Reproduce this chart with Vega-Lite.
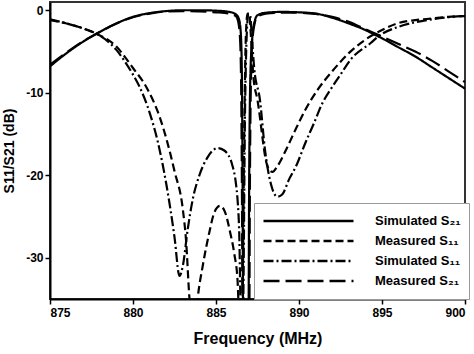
{
  "$schema": "https://vega.github.io/schema/vega-lite/v6.json",
  "width": 415,
  "height": 297,
  "autosize": {"type": "none"},
  "padding": {"left": 50, "top": 2, "right": 9, "bottom": 55},
  "background": "white",
  "config": {
    "font": "Liberation Sans",
    "view": {"stroke": "#333", "strokeWidth": 2},
    "axis": {
      "grid": false,
      "domainColor": "black",
      "domainWidth": 2,
      "tickColor": "black",
      "tickWidth": 1.5,
      "tickSize": 5,
      "labelColor": "black",
      "labelFontWeight": "bold",
      "labelFontSize": 12,
      "titleColor": "black",
      "titleFontWeight": "bold"
    }
  },
  "data": {
    "values": [
      {"series": "Simulated S₂₁", "f": 875, "db": -6.8},
      {"series": "Simulated S₂₁", "f": 876, "db": -5.2},
      {"series": "Simulated S₂₁", "f": 877, "db": -3.8},
      {"series": "Simulated S₂₁", "f": 877.8, "db": -2.85},
      {"series": "Simulated S₂₁", "f": 879, "db": -1.6},
      {"series": "Simulated S₂₁", "f": 880, "db": -0.8},
      {"series": "Simulated S₂₁", "f": 881, "db": -0.35},
      {"series": "Simulated S₂₁", "f": 882, "db": -0.1},
      {"series": "Simulated S₂₁", "f": 883, "db": 0},
      {"series": "Simulated S₂₁", "f": 884, "db": 0},
      {"series": "Simulated S₂₁", "f": 885, "db": -0.05},
      {"series": "Simulated S₂₁", "f": 885.8, "db": -0.2},
      {"series": "Simulated S₂₁", "f": 886.2, "db": -0.5},
      {"series": "Simulated S₂₁", "f": 886.4, "db": -1.2},
      {"series": "Simulated S₂₁", "f": 886.5, "db": -3},
      {"series": "Simulated S₂₁", "f": 886.56, "db": -8},
      {"series": "Simulated S₂₁", "f": 886.6, "db": -20},
      {"series": "Simulated S₂₁", "f": 886.64, "db": -40},
      {"series": "Simulated S₂₁", "f": 886.95, "db": -40},
      {"series": "Simulated S₂₁", "f": 887.0, "db": -20},
      {"series": "Simulated S₂₁", "f": 887.07, "db": -8},
      {"series": "Simulated S₂₁", "f": 887.2, "db": -3},
      {"series": "Simulated S₂₁", "f": 887.35, "db": -1.2},
      {"series": "Simulated S₂₁", "f": 887.5, "db": -0.6},
      {"series": "Simulated S₂₁", "f": 888, "db": -0.3},
      {"series": "Simulated S₂₁", "f": 889, "db": -0.2},
      {"series": "Simulated S₂₁", "f": 890, "db": -0.25},
      {"series": "Simulated S₂₁", "f": 891, "db": -0.4},
      {"series": "Simulated S₂₁", "f": 892, "db": -0.9},
      {"series": "Simulated S₂₁", "f": 893, "db": -1.6},
      {"series": "Simulated S₂₁", "f": 894, "db": -2.4},
      {"series": "Simulated S₂₁", "f": 894.7, "db": -3.1},
      {"series": "Simulated S₂₁", "f": 895, "db": -3.4},
      {"series": "Simulated S₂₁", "f": 896, "db": -4.5},
      {"series": "Simulated S₂₁", "f": 897, "db": -5.6},
      {"series": "Simulated S₂₁", "f": 898, "db": -6.9},
      {"series": "Simulated S₂₁", "f": 899, "db": -8.2},
      {"series": "Simulated S₂₁", "f": 900, "db": -9.5},

      {"series": "Measured S₁₁", "f": 875, "db": -1.2},
      {"series": "Measured S₁₁", "f": 876, "db": -1.6},
      {"series": "Measured S₁₁", "f": 877, "db": -2.2},
      {"series": "Measured S₁₁", "f": 877.8, "db": -2.85},
      {"series": "Measured S₁₁", "f": 878.5, "db": -3.6},
      {"series": "Measured S₁₁", "f": 879, "db": -4.4},
      {"series": "Measured S₁₁", "f": 879.6, "db": -5.9},
      {"series": "Measured S₁₁", "f": 880, "db": -7},
      {"series": "Measured S₁₁", "f": 880.8, "db": -9.3},
      {"series": "Measured S₁₁", "f": 881.6, "db": -12.9},
      {"series": "Measured S₁₁", "f": 882, "db": -15.5},
      {"series": "Measured S₁₁", "f": 882.5, "db": -19.5},
      {"series": "Measured S₁₁", "f": 883, "db": -24.1},
      {"series": "Measured S₁₁", "f": 883.2, "db": -28},
      {"series": "Measured S₁₁", "f": 883.4, "db": -34.9},
      {"series": "Measured S₁₁", "f": 883.5, "db": -37},
      {"series": "Measured S₁₁", "f": 883.8, "db": -37},
      {"series": "Measured S₁₁", "f": 883.9, "db": -34.9},
      {"series": "Measured S₁₁", "f": 884.2, "db": -31},
      {"series": "Measured S₁₁", "f": 884.6, "db": -26.9},
      {"series": "Measured S₁₁", "f": 884.9, "db": -24.5},
      {"series": "Measured S₁₁", "f": 885.24, "db": -23.7},
      {"series": "Measured S₁₁", "f": 885.55, "db": -24.5},
      {"series": "Measured S₁₁", "f": 885.85, "db": -26.9},
      {"series": "Measured S₁₁", "f": 886.1, "db": -29.5},
      {"series": "Measured S₁₁", "f": 886.3, "db": -32.8},
      {"series": "Measured S₁₁", "f": 886.4, "db": -37},
      {"series": "Measured S₁₁", "f": 886.58, "db": -37},
      {"series": "Measured S₁₁", "f": 886.7, "db": -15},
      {"series": "Measured S₁₁", "f": 886.8, "db": -3},
      {"series": "Measured S₁₁", "f": 886.9, "db": -0.4},
      {"series": "Measured S₁₁", "f": 887.0, "db": -0.4},
      {"series": "Measured S₁₁", "f": 887.1, "db": -3},
      {"series": "Measured S₁₁", "f": 887.25, "db": -8},
      {"series": "Measured S₁₁", "f": 887.5, "db": -10.9},
      {"series": "Measured S₁₁", "f": 888.1, "db": -18.9},
      {"series": "Measured S₁₁", "f": 888.4, "db": -19.6},
      {"series": "Measured S₁₁", "f": 888.7, "db": -18.9},
      {"series": "Measured S₁₁", "f": 889.2, "db": -17},
      {"series": "Measured S₁₁", "f": 889.7, "db": -14.85},
      {"series": "Measured S₁₁", "f": 890.4, "db": -12},
      {"series": "Measured S₁₁", "f": 891.1, "db": -9.7},
      {"series": "Measured S₁₁", "f": 892, "db": -7.4},
      {"series": "Measured S₁₁", "f": 893, "db": -5.2},
      {"series": "Measured S₁₁", "f": 893.9, "db": -3.7},
      {"series": "Measured S₁₁", "f": 895, "db": -2.4},
      {"series": "Measured S₁₁", "f": 895.9, "db": -1.6},
      {"series": "Measured S₁₁", "f": 897, "db": -1.2},
      {"series": "Measured S₁₁", "f": 898, "db": -1.0},
      {"series": "Measured S₁₁", "f": 899, "db": -0.8},
      {"series": "Measured S₁₁", "f": 900, "db": -0.7},

      {"series": "Simulated S₁₁", "f": 875, "db": -1.1},
      {"series": "Simulated S₁₁", "f": 876, "db": -1.6},
      {"series": "Simulated S₁₁", "f": 877, "db": -2.2},
      {"series": "Simulated S₁₁", "f": 877.8, "db": -2.85},
      {"series": "Simulated S₁₁", "f": 878.5, "db": -3.8},
      {"series": "Simulated S₁₁", "f": 879, "db": -4.8},
      {"series": "Simulated S₁₁", "f": 879.6, "db": -6.5},
      {"series": "Simulated S₁₁", "f": 880, "db": -7.8},
      {"series": "Simulated S₁₁", "f": 880.4, "db": -9.3},
      {"series": "Simulated S₁₁", "f": 881, "db": -12.4},
      {"series": "Simulated S₁₁", "f": 881.5, "db": -16},
      {"series": "Simulated S₁₁", "f": 882, "db": -21},
      {"series": "Simulated S₁₁", "f": 882.5, "db": -27.5},
      {"series": "Simulated S₁₁", "f": 882.8, "db": -32.2},
      {"series": "Simulated S₁₁", "f": 883.0, "db": -31},
      {"series": "Simulated S₁₁", "f": 883.3, "db": -26.5},
      {"series": "Simulated S₁₁", "f": 883.6, "db": -22.9},
      {"series": "Simulated S₁₁", "f": 884, "db": -20},
      {"series": "Simulated S₁₁", "f": 884.5, "db": -17.8},
      {"series": "Simulated S₁₁", "f": 885.1, "db": -16.7},
      {"series": "Simulated S₁₁", "f": 885.5, "db": -17.0},
      {"series": "Simulated S₁₁", "f": 886.0, "db": -18.9},
      {"series": "Simulated S₁₁", "f": 886.2, "db": -21},
      {"series": "Simulated S₁₁", "f": 886.3, "db": -23},
      {"series": "Simulated S₁₁", "f": 886.4, "db": -27},
      {"series": "Simulated S₁₁", "f": 886.5, "db": -37},
      {"series": "Simulated S₁₁", "f": 886.62, "db": -37},
      {"series": "Simulated S₁₁", "f": 886.75, "db": -12},
      {"series": "Simulated S₁₁", "f": 886.85, "db": -3},
      {"series": "Simulated S₁₁", "f": 886.95, "db": -0.5},
      {"series": "Simulated S₁₁", "f": 887.05, "db": -0.5},
      {"series": "Simulated S₁₁", "f": 887.15, "db": -3},
      {"series": "Simulated S₁₁", "f": 887.3, "db": -7},
      {"series": "Simulated S₁₁", "f": 887.65, "db": -10.9},
      {"series": "Simulated S₁₁", "f": 887.95, "db": -16.9},
      {"series": "Simulated S₁₁", "f": 888.3, "db": -21},
      {"series": "Simulated S₁₁", "f": 888.7, "db": -22.6},
      {"series": "Simulated S₁₁", "f": 889.0, "db": -22.3},
      {"series": "Simulated S₁₁", "f": 889.4, "db": -20.5},
      {"series": "Simulated S₁₁", "f": 889.8, "db": -19},
      {"series": "Simulated S₁₁", "f": 890.4, "db": -16},
      {"series": "Simulated S₁₁", "f": 890.9, "db": -13.7},
      {"series": "Simulated S₁₁", "f": 891.4, "db": -11.3},
      {"series": "Simulated S₁₁", "f": 892, "db": -9.3},
      {"series": "Simulated S₁₁", "f": 892.5, "db": -7.8},
      {"series": "Simulated S₁₁", "f": 893.1, "db": -6},
      {"series": "Simulated S₁₁", "f": 894.3, "db": -4.0},
      {"series": "Simulated S₁₁", "f": 894.9, "db": -3.0},
      {"series": "Simulated S₁₁", "f": 896, "db": -2.0},
      {"series": "Simulated S₁₁", "f": 896.9, "db": -1.5},
      {"series": "Simulated S₁₁", "f": 898, "db": -1.1},
      {"series": "Simulated S₁₁", "f": 899, "db": -0.85},
      {"series": "Simulated S₁₁", "f": 900, "db": -0.7},

      {"series": "Measured S₂₁", "f": 875, "db": -6.6},
      {"series": "Measured S₂₁", "f": 876, "db": -5.1},
      {"series": "Measured S₂₁", "f": 877, "db": -3.75},
      {"series": "Measured S₂₁", "f": 877.8, "db": -2.85},
      {"series": "Measured S₂₁", "f": 879, "db": -1.6},
      {"series": "Measured S₂₁", "f": 880, "db": -0.85},
      {"series": "Measured S₂₁", "f": 881, "db": -0.4},
      {"series": "Measured S₂₁", "f": 882, "db": -0.15},
      {"series": "Measured S₂₁", "f": 883, "db": -0.1},
      {"series": "Measured S₂₁", "f": 884, "db": -0.15},
      {"series": "Measured S₂₁", "f": 885, "db": -0.25},
      {"series": "Measured S₂₁", "f": 885.8, "db": -0.4},
      {"series": "Measured S₂₁", "f": 886.2, "db": -0.7},
      {"series": "Measured S₂₁", "f": 886.35, "db": -1.5},
      {"series": "Measured S₂₁", "f": 886.45, "db": -3.5},
      {"series": "Measured S₂₁", "f": 886.52, "db": -10},
      {"series": "Measured S₂₁", "f": 886.57, "db": -25},
      {"series": "Measured S₂₁", "f": 886.6, "db": -40},
      {"series": "Measured S₂₁", "f": 887.0, "db": -40},
      {"series": "Measured S₂₁", "f": 887.04, "db": -22},
      {"series": "Measured S₂₁", "f": 887.1, "db": -9},
      {"series": "Measured S₂₁", "f": 887.2, "db": -3.5},
      {"series": "Measured S₂₁", "f": 887.35, "db": -1.4},
      {"series": "Measured S₂₁", "f": 887.5, "db": -0.8},
      {"series": "Measured S₂₁", "f": 888, "db": -0.4},
      {"series": "Measured S₂₁", "f": 889, "db": -0.3},
      {"series": "Measured S₂₁", "f": 890, "db": -0.3},
      {"series": "Measured S₂₁", "f": 891, "db": -0.45},
      {"series": "Measured S₂₁", "f": 892, "db": -0.8},
      {"series": "Measured S₂₁", "f": 893, "db": -1.4},
      {"series": "Measured S₂₁", "f": 894, "db": -2.3},
      {"series": "Measured S₂₁", "f": 894.8, "db": -3.0},
      {"series": "Measured S₂₁", "f": 896, "db": -4.1},
      {"series": "Measured S₂₁", "f": 897, "db": -5.0},
      {"series": "Measured S₂₁", "f": 898, "db": -6.1},
      {"series": "Measured S₂₁", "f": 899, "db": -7.4},
      {"series": "Measured S₂₁", "f": 900, "db": -8.7}
    ]
  },
  "mark": {"type": "line", "interpolate": "monotone", "clip": true, "color": "black", "strokeWidth": 2.2},
  "encoding": {
    "x": {
      "field": "f",
      "type": "quantitative",
      "scale": {"domain": [875, 900], "nice": false, "zero": false},
      "axis": {
        "title": "Frequency (MHz)",
        "titleFontSize": 16,
        "titlePadding": 12,
        "labelPadding": 3,
        "values": [875, 880, 885, 890, 895, 900],
        "labelExpr": "'' + datum.value"
      }
    },
    "y": {
      "field": "db",
      "type": "quantitative",
      "scale": {"domain": [-35, 1], "nice": false, "zero": false},
      "axis": {
        "title": "S11/S21 (dB)",
        "titleFontSize": 14,
        "titlePadding": 9,
        "labelPadding": 2,
        "values": [0, -10, -20, -30],
        "labelExpr": "'' + datum.value"
      }
    },
    "strokeDash": {
      "field": "series",
      "type": "nominal",
      "scale": {
        "domain": ["Simulated S₂₁", "Measured S₁₁", "Simulated S₁₁", "Measured S₂₁"],
        "range": [[1, 0], [8, 4], [10, 3, 2, 3], [16, 6]]
      },
      "legend": {
        "title": null,
        "orient": "none",
        "legendX": 204,
        "legendY": 201,
        "symbolType": "stroke",
        "symbolSize": 8100,
        "symbolStrokeWidth": 2.5,
        "symbolStrokeColor": "black",
        "labelFont": "Liberation Sans",
        "labelFontSize": 13,
        "labelFontWeight": "bold",
        "labelColor": "black",
        "labelOffset": 20,
        "clipHeight": 20,
        "rowPadding": 0,
        "padding": 8,
        "strokeColor": "#999",
        "fillColor": "white"
      }
    }
  }
}
